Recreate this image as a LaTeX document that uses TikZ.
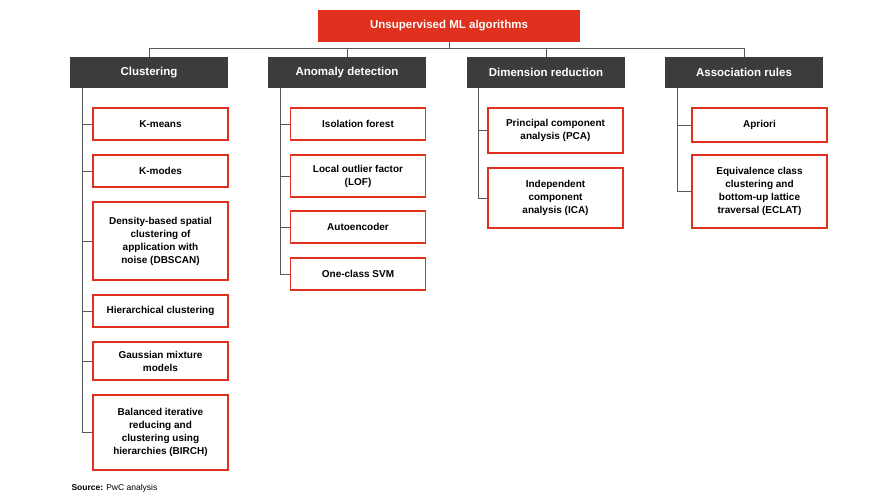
\documentclass[tikz,border=0pt]{standalone}
\usepackage{fontspec}
\setmainfont{Liberation Sans}
\usetikzlibrary{positioning}
\definecolor{pwcred}{HTML}{E0301E}
\definecolor{pwcdark}{HTML}{3C3C3C}
\begin{document}
\begin{tikzpicture}[
      x=1pt, y=-1pt,
      rootbox/.style={rectangle, fill=pwcred, text=white, font=\bfseries\fontsize{11.5}{13}\selectfont, minimum width=262pt, minimum height=32pt, inner sep=0pt},
      catbox/.style={rectangle, fill=pwcdark, text=white, font=\bfseries\fontsize{11.5}{13}\selectfont, minimum width=158pt, minimum height=31pt, inner sep=0pt},
      itembox/.style={rectangle, draw=pwcred, line width=1.3pt, fill=white, font=\bfseries\fontsize{10}{13}\selectfont, align=center, minimum width=135pt, inner sep=1pt},
      link/.style={gray!70!black, line width=0.6pt},
      srctext/.style={font=\fontsize{8.5}{10}\selectfont, anchor=west}
    ]
    \useasboundingbox (0,0) rectangle (885,498);

    % Root and categories
    \node[rootbox] (root) at (449,26) {Unsupervised ML algorithms};
    \node[catbox] (clus) at (149,72.5) {Clustering};
    \node[catbox] (anom) at (347,72.5) {Anomaly detection};
    \node[catbox] (dimr) at (546,72.5) {Dimension reduction};
    \node[catbox] (assoc) at (744,72.5) {Association rules};

    \coordinate (bus) at (449,48);
    \draw[link] (root.south) -- (bus);
    \foreach \c in {clus, anom, dimr, assoc}
      \draw[link] (bus -| \c.north) -- (\c.north);
    \draw[link] (bus -| clus.north) -- (bus -| assoc.north);

    % Clustering
    \node[itembox, minimum height=32pt] (kmeans) at (160.5,124) {K-means};
    \node[itembox, minimum height=32pt] (kmodes) at (160.5,171) {K-modes};
    \node[itembox, minimum height=78pt] (dbscan) at (160.5,241) {Density-based spatial\\clustering of\\application with\\noise (DBSCAN)};
    \node[itembox, minimum height=32pt] (hier) at (160.5,311) {Hierarchical clustering};
    \node[itembox, minimum height=38pt] (gmm) at (160.5,361) {Gaussian mixture\\models};
    \node[itembox, minimum height=75pt] (birch) at (160.5,432.5) {Balanced iterative\\reducing and\\clustering using\\hierarchies (BIRCH)};
    \coordinate (clusrail) at (82,88);
    \draw[link] (clusrail) -- (clusrail |- birch.west);
    \foreach \n in {kmeans, kmodes, dbscan, hier, gmm, birch}
      \draw[link] (clusrail |- \n.west) -- (\n.west);

    % Anomaly detection
    \node[itembox, minimum height=32pt] (iso) at (358,124) {Isolation forest};
    \node[itembox, minimum height=42pt] (lof) at (358,176) {Local outlier factor\\(LOF)};
    \node[itembox, minimum height=32pt] (auto) at (358,227) {Autoencoder};
    \node[itembox, minimum height=32pt] (svm) at (358,274) {One-class SVM};
    \coordinate (anomrail) at (280,88);
    \draw[link] (anomrail) -- (anomrail |- svm.west);
    \foreach \n in {iso, lof, auto, svm}
      \draw[link] (anomrail |- \n.west) -- (\n.west);

    % Dimension reduction
    \node[itembox, minimum height=45pt] (pca) at (555.5,130.5) {Principal component\\analysis (PCA)};
    \node[itembox, minimum height=60pt] (ica) at (555.5,198) {Independent\\component\\analysis (ICA)};
    \coordinate (dimrail) at (478,88);
    \draw[link] (dimrail) -- (dimrail |- ica.west);
    \foreach \n in {pca, ica}
      \draw[link] (dimrail |- \n.west) -- (\n.west);

    % Association rules
    \node[itembox, minimum height=34pt] (apriori) at (759.5,125) {Apriori};
    \node[itembox, minimum height=73pt] (eclat) at (759.5,191.5) {Equivalence class\\clustering and\\bottom-up lattice\\traversal (ECLAT)};
    \coordinate (assocrail) at (677,88);
    \draw[link] (assocrail) -- (assocrail |- eclat.west);
    \foreach \n in {apriori, eclat}
      \draw[link] (assocrail |- \n.west) -- (\n.west);

    % Source
    \node[srctext] (src) at (68,488) {\textbf{Source:} PwC analysis};

  \end{tikzpicture}
\end{document}
